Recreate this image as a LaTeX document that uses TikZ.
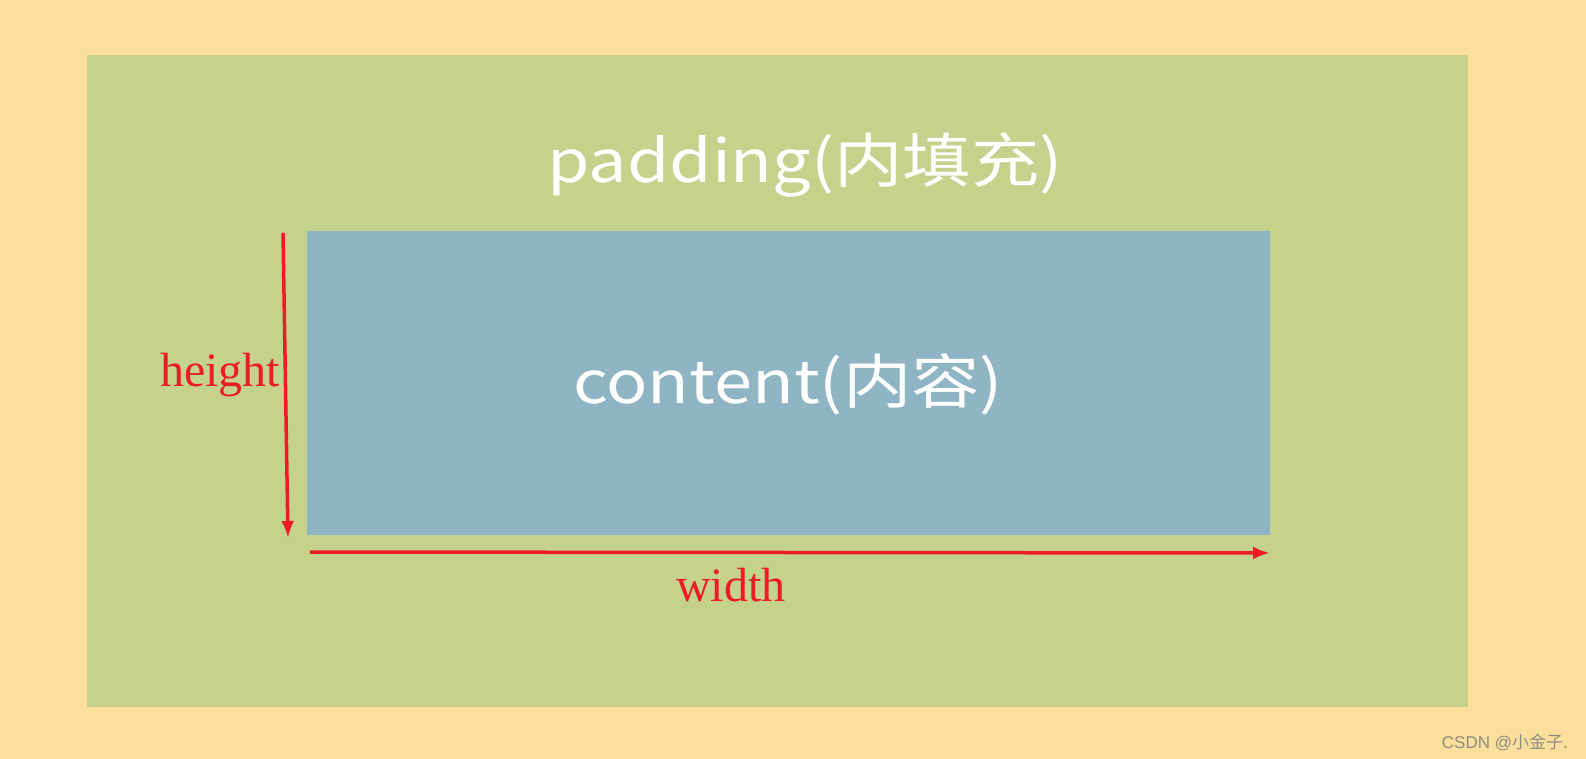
\documentclass[tikz,border=0pt]{standalone}
\usepackage{fontspec}
\setmainfont{Liberation Serif}
\newfontfamily\cjk{Noto Sans CJK SC}
\newfontfamily\wm{Liberation Sans}
\usetikzlibrary{arrows.meta}
\definecolor{bgc}{RGB}{252,223,156}
\definecolor{padc}{RGB}{196,210,140}
\definecolor{contc}{RGB}{143,180,195}
\definecolor{redc}{RGB}{237,28,36}
\definecolor{wmc}{RGB}{140,140,130}
\tikzset{
  dimarrow/.style={draw=redc, line width=3.5pt, -{Latex[length=17pt,width=13pt]}},
  dimlabel/.style={text=redc, font=\fontsize{48}{52}\selectfont, inner sep=0pt},
  boxlabel/.style={text=white, font=\cjk\fontsize{59}{64}\selectfont, inner sep=0pt, xscale=1.16, transform shape},
}
\begin{document}
\begin{tikzpicture}[x=1pt,y=-1pt]
\fill[bgc] (0,0) rectangle (1586,759);
\useasboundingbox (0,0) rectangle (1586,759);
\node[fill=padc, inner sep=0pt, minimum width=1381pt, minimum height=652pt, anchor=north west] (pad) at (87,55) {};
\node[fill=contc, inner sep=0pt, minimum width=963pt, minimum height=304pt, anchor=north west] (cont) at (307,231) {};
\node[boxlabel] (padlbl) at (805,165) {padding(内填充)};
\node[boxlabel] (contlbl) at (788,384) {content(内容)};
\coordinate (h1) at (283,233);
\coordinate (h2) at (288,538);
\coordinate (w1) at (310,552);
\coordinate (w2) at (1270,553);
\draw[dimarrow] (h1) -- (h2);
\draw[dimarrow] (w1) -- (w2);
\node[dimlabel] (hl) at (220,375) {height};
\node[dimlabel] (wl) at (731,585) {width};
\node[text=wmc, font=\wm\fontsize{17}{19}\selectfont, anchor=east, inner sep=0pt] (wmk) at (1568,742) {CSDN @\cjk 小金子.};
\end{tikzpicture}
\end{document}
